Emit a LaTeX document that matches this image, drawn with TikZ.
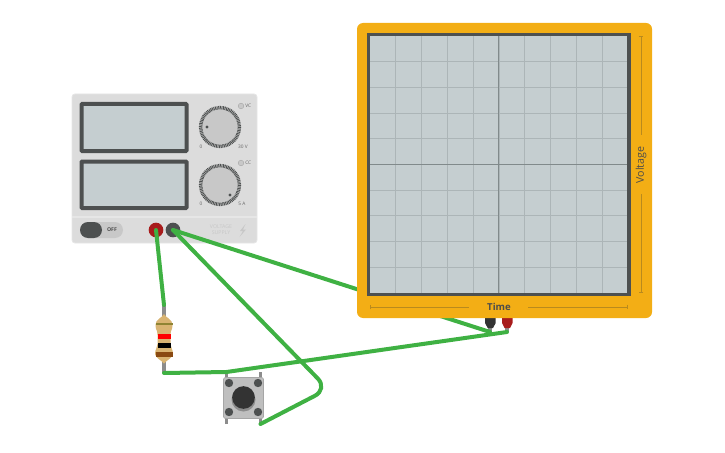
\documentclass[tikz,border=0pt]{standalone}
\usepackage{fontspec}
\setmainfont{Open Sans}
\usetikzlibrary{arrows.meta}
\definecolor{panelgray}{HTML}{DCDCDC}
\definecolor{paneledge}{HTML}{E6E6E6}
\definecolor{darkgray}{HTML}{4D5050}
\definecolor{lcdblue}{HTML}{C5CED0}
\definecolor{knobgray}{HTML}{C8C8C8}
\definecolor{scopeorange}{HTML}{F3AE15}
\definecolor{axisbrown}{HTML}{B98A1E}
\definecolor{wiregreen}{HTML}{3FB143}
\definecolor{termred}{HTML}{A81C1C}
\definecolor{restan}{HTML}{D9B472}
\definecolor{pingray}{HTML}{8C8C8C}
\definecolor{gridgray}{HTML}{ACB5B7}
\definecolor{centergray}{HTML}{818A8B}
\definecolor{bandbrown}{HTML}{8A4A12}
\definecolor{bandolive}{HTML}{8F8433}
\tikzset{
  wire/.style={draw=wiregreen,line width=3pt,line cap=round,line join=round},
  pin/.style={draw=pingray,line width=2.4pt},
  lcd/.style={draw=darkgray,fill=lcdblue,line width=3pt,rounded corners=0.6pt},
  terminal/.style={circle,inner sep=0pt,minimum size=11pt},
  tiny/.style={font=\fontsize{3.6pt}{4pt}\selectfont,text=black!60,inner sep=0pt},
  gridline/.style={draw=gridgray,line width=0.75pt},
  axisline/.style={draw=axisbrown,line width=0.5pt},
  scopelabel/.style={font=\fontsize{7.2pt}{8pt}\selectfont,text=black!70,inner sep=0pt},
}
\begin{document}
\begin{tikzpicture}[x=0.75pt,y=-0.75pt]
  \useasboundingbox (0,0) rectangle (725,453);

  \filldraw[draw=paneledge,fill=panelgray,rounded corners=2.2pt,line width=0.6pt]
  (72,94) rectangle (257,243);
  \draw[draw=paneledge,line width=0.8pt] (72,217) -- (257,217);
  \draw[lcd] (81.5,104) rectangle (186.5,151);
  \draw[lcd] (81.5,161.5) rectangle (186.5,208);

  \foreach \kx/\ky/\dx/\dy/\kname in {220/127/207/127/knobv,220/185/230/195/knobc}{
    \node[circle,fill=knobgray,draw=knobgray,minimum size=30pt,inner sep=0pt] (\kname) at (\kx,\ky) {};
    \draw[darkgray,line width=2.6pt,dash pattern=on 0.65pt off 0.55pt] (\kx,\ky) circle (19.4);
    \fill[darkgray] (\dx,\dy) circle (1.7);
  }
  \foreach \ly/\ltext in {106/VC,163/CC}{
    \filldraw[draw=black!35,fill=knobgray,line width=0.3pt] (241,\ly) circle (2.8);
    \node[tiny,anchor=west] at (245,\ly) {\ltext};
  }
  \node[tiny] at (201,147) {0};
  \node[tiny] at (243,147) {30 V};
  \node[tiny] at (201,204) {0};
  \node[tiny] at (242,204) {5 A};

  \fill[knobgray,rounded corners=6pt] (80,222) rectangle (123,238);
  \fill[darkgray,rounded corners=6pt] (80,222) rectangle (102,238);
  \node[font=\fontsize{3.9pt}{4pt}\selectfont\bfseries,text=black!70,inner sep=0pt] at (112,230) {OFF};
  \node[font=\fontsize{3.9pt}{4.4pt}\selectfont,text=black!22,align=center,inner sep=0pt] at (221,230) {VOLTAGE\\SUPPLY};
  \fill[black!22] (245.5,224) -- (240,231) -- (243,231) -- (239.5,237) -- (246,229.5) -- (243,229.5) -- cycle;

  \node[terminal,fill=termred] (posterm) at (156,230) {};
  \node[terminal,fill=darkgray] (negterm) at (173,230) {};

  \coordinate (restop) at (164,305);
  \coordinate (resbot) at (164,373);
  \coordinate (btntl) at (226.5,372);
  \coordinate (btntr) at (260.5,372);
  \coordinate (btnbl) at (226.5,424);
  \coordinate (btnbr) at (260.5,424);
  \coordinate (blackpin) at (490,332);
  \coordinate (redpin) at (507,332);
  \coordinate (bend) at (328,389);

  \draw[pin] (restop) -- (resbot);
  \fill[restan] (164,314) .. controls (166,318) and (172.5,319) .. (172.5,325)
  .. controls (172.5,330) and (170.5,330) .. (170.5,335) -- (170.5,344)
  .. controls (170.5,348) and (173,349) .. (173,354)
  .. controls (172.5,358) and (167,360) .. (164,363.5)
  .. controls (161,360) and (155.5,358) .. (155,354)
  .. controls (155,349) and (157.5,348) .. (157.5,344) -- (157.5,335)
  .. controls (157.5,330) and (155.5,330) .. (155.5,325)
  .. controls (155.5,319) and (162,318) .. (164,314) -- cycle;
  \fill[bandolive] (156,323.2) rectangle (172.5,325.2);
  \fill[red] (158,334) rectangle (171,339);
  \fill[black] (158,343) rectangle (171,348);
  \fill[bandbrown] (156,352) rectangle (173,356.5);

  \draw[pin] (btntl) -- (226.5,380) (btntr) -- (260.5,380)
  (btnbl) -- (226.5,416) (btnbr) -- (260.5,416);
  \filldraw[draw=black!35,fill=black!25,rounded corners=1.5pt,line width=0.5pt] (223.5,377.5) rectangle (263.5,418.5);
  \foreach \bx/\by in {229/383,258/383,229/412,258/412}
    \fill[darkgray] (\bx,\by) circle (4.2);
  \fill[black!45] (243.5,399.5) circle (12);
  \node[circle,fill=black!80,minimum size=17pt,inner sep=0pt] (btncap) at (243.5,397.5) {};

  \draw[pin] (blackpin) -- (490,326) (redpin) -- (507,326);
  \fill[black!80] (485,316) -- (495.7,316) -- (495.7,323) -- (493,328) -- (487.7,328) -- (485,323) -- cycle;
  \fill[termred] (502,316) -- (512.5,316) -- (512.5,323) -- (510,328) -- (504.5,328) -- (502,323) -- cycle;

  \draw[wire] (posterm.center) -- (restop);
  \draw[wire] (negterm.center) -- (blackpin);
  \draw[wire,rounded corners=11pt] (negterm.center) -- (bend) -- (btnbr);
  \draw[wire] (resbot) -- (btntl) -- (redpin);

  \fill[scopeorange,rounded corners=4.5pt] (357,23) rectangle (652,318);
  \fill[lcdblue] (368.5,34.5) rectangle (629,294.5);
  \foreach \i in {1,...,9}{
    \draw[gridline] ({370+25.8*\i},36) -- ({370+25.8*\i},293);
    \draw[gridline] (370,{36+25.7*\i}) -- (628,{36+25.7*\i});
  }
  \draw[centergray,line width=0.75pt] (498.7,36) -- (498.7,293) (370,164.5) -- (628,164.5);
  \draw[darkgray,line width=2.4pt] (368.5,34.5) rectangle (629,294.5);

  \node[scopelabel,font=\fontsize{7.2pt}{8pt}\selectfont\bfseries] (timelabel) at (499,307) {Time};
  \coordinate (timeleft) at (370,307);
  \coordinate (timeright) at (628,307);
  \draw[axisline,{Bar[width=3.5pt]}-] (timeleft) -- (469,307);
  \draw[axisline,-{Bar[width=3.5pt]}] (528,307) -- (timeright);
  \node[scopelabel,rotate=90,font=\fontsize{8pt}{9pt}\selectfont] (voltlabel) at (641,165) {Voltage};
  \coordinate (volttop) at (641,36);
  \coordinate (voltbot) at (641,293);
  \draw[axisline,{Bar[width=3.5pt]}-] (volttop) -- (641,135);
  \draw[axisline,-{Bar[width=3.5pt]}] (641,194) -- (voltbot);
\end{tikzpicture}
\end{document}
